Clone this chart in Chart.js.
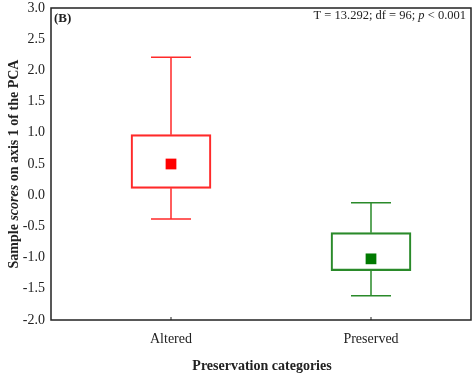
<!DOCTYPE html>
<html>
<head>
<meta charset="utf-8">
<script src="https://cdn.jsdelivr.net/npm/chart.js@4"></script>
<style>
  html, body { margin: 0; padding: 0; background: #fff; }
  #wrap { width: 474px; height: 375px; }
</style>
</head>
<body>
<div id="wrap"><canvas id="box-chart"></canvas></div>
<script>
const categories = ["Altered", "Preserved"];
const whiskerMin = [-0.38, -1.61];
const boxLow = [0.11, -1.21];
const boxHigh = [0.97, -0.6];
const whiskerMax = [2.21, -0.12];
const means = [0.5, -1.02];
const yTicks = [-2, -1.5, -1, -0.5, 0, 0.5, 1, 1.5, 2, 2.5, 3];

const boxColors = ["#ff2a2a", "#2a8a2a"];
const meanColors = ["#ff0000", "#007a00"];
const textColor = "#222";
const serif = "'Liberation Serif', 'DejaVu Serif', serif";

const boxChart = document.querySelector("canvas#box-chart");

// whiskers, frame and text that chart.js can't do by itself
const extras = {
    id: "extras",
    afterDatasetsDraw(chart) {
        const ctx = chart.ctx;
        const x = chart.scales.x;
        const y = chart.scales.y;
        const area = chart.chartArea;

        ctx.save();
        ctx.lineWidth = 1.5;
        categories.forEach((c, i) => {
            const px = x.getPixelForValue(i);
            ctx.strokeStyle = boxColors[i];
            ctx.beginPath();
            ctx.moveTo(px, y.getPixelForValue(boxHigh[i]));
            ctx.lineTo(px, y.getPixelForValue(whiskerMax[i]));
            ctx.moveTo(px, y.getPixelForValue(boxLow[i]));
            ctx.lineTo(px, y.getPixelForValue(whiskerMin[i]));
            ctx.moveTo(px - 20, y.getPixelForValue(whiskerMax[i]));
            ctx.lineTo(px + 20, y.getPixelForValue(whiskerMax[i]));
            ctx.moveTo(px - 20, y.getPixelForValue(whiskerMin[i]));
            ctx.lineTo(px + 20, y.getPixelForValue(whiskerMin[i]));
            ctx.stroke();
        });

        // frame
        ctx.strokeStyle = "#222";
        ctx.lineWidth = 1.5;
        ctx.strokeRect(area.left, area.top, area.right - area.left, area.bottom - area.top);

        // small inward ticks on x axis
        ctx.lineWidth = 1;
        categories.forEach((c, i) => {
            const px = x.getPixelForValue(i);
            ctx.beginPath();
            ctx.moveTo(px, area.bottom);
            ctx.lineTo(px, area.bottom - 3);
            ctx.stroke();
        });

        ctx.fillStyle = textColor;
        ctx.textBaseline = "middle";

        // panel letter
        ctx.font = "bold 13px " + serif;
        ctx.textAlign = "left";
        ctx.fillText("(B)", area.left + 3, area.top + 11);

        // test statistics, right aligned
        const parts = [
            ["T = 13.292; df = 96; ", "12.5px"],
            ["p", "italic 12.5px"],
            [" < 0.001", "12.5px"],
        ];
        let total = 0;
        parts.forEach((p) => {
            ctx.font = p[1] + " " + serif;
            total += ctx.measureText(p[0]).width;
        });
        let tx = area.right - 5 - total;
        parts.forEach((p) => {
            ctx.font = p[1] + " " + serif;
            ctx.fillText(p[0], tx, area.top + 8);
            tx += ctx.measureText(p[0]).width;
        });

        // x title
        ctx.font = "bold 14px " + serif;
        ctx.textAlign = "center";
        ctx.fillText("Preservation categories", (area.left + area.right) / 2 + 1, 366);

        // y title with italic word
        const yparts = [
            ["Sample ", "bold 14px"],
            ["scores", "italic bold 14px"],
            [" on axis 1 of the PCA", "bold 14px"],
        ];
        let w = 0;
        yparts.forEach((p) => {
            ctx.font = p[1] + " " + serif;
            w += ctx.measureText(p[0]).width;
        });
        ctx.translate(14, (area.top + area.bottom) / 2);
        ctx.rotate(-Math.PI / 2);
        ctx.textAlign = "left";
        let ty = -w / 2;
        yparts.forEach((p) => {
            ctx.font = p[1] + " " + serif;
            ctx.fillText(p[0], ty, 0);
            ty += ctx.measureText(p[0]).width;
        });
        ctx.restore();
    },
};

const config = {
    type: "bar",
    data: {
        datasets: [
            {
                type: "bar",
                data: categories.map((c, i) => ({ x: i, y: [boxLow[i], boxHigh[i]] })),
                backgroundColor: "rgba(255,255,255,0)",
                borderColor: boxColors,
                borderWidth: 1.5,
                borderSkipped: false,
                barThickness: 80,
            },
            {
                type: "scatter",
                data: categories.map((c, i) => ({ x: i, y: means[i] })),
                pointStyle: "rect",
                radius: 7.6,
                backgroundColor: meanColors,
                borderColor: meanColors,
                borderWidth: 0,
            },
        ],
    },
    options: {
        responsive: true,
        maintainAspectRatio: false,
        animation: false,
        layout: {
            autoPadding: false,
            padding: { top: 8, right: 3, left: 0, bottom: 0 },
        },
        plugins: {
            legend: { display: false },
            tooltip: { enabled: false },
        },
        scales: {
            x: {
                type: "linear",
                offset: false,
                min: -0.6,
                max: 1.5,
                grid: { display: false, drawTicks: false, offset: false },
                border: { display: false },
                afterBuildTicks: (scale) => {
                    scale.ticks = categories.map((c, i) => ({ value: i }));
                },
                afterFit: (scale) => {
                    scale.height = 55;
                    scale.paddingLeft = 0;
                    scale.paddingRight = 0;
                },
                ticks: {
                    padding: 11,
                    color: textColor,
                    font: { family: serif, size: 14 },
                    callback: (v) => categories[v],
                },
            },
            y: {
                min: -2,
                max: 3,
                grid: { display: false, drawTicks: false },
                border: { display: false },
                afterBuildTicks: (scale) => {
                    scale.ticks = yTicks.map((v) => ({ value: v }));
                },
                afterFit: (scale) => {
                    scale.width = 51;
                    scale.paddingTop = 0;
                    scale.paddingBottom = 0;
                },
                ticks: {
                    padding: 6,
                    color: textColor,
                    font: { family: serif, size: 14 },
                    callback: (v) => v.toFixed(1),
                },
            },
        },
    },
    plugins: [extras],
};

new Chart(boxChart, config);
</script>
</body>
</html>
